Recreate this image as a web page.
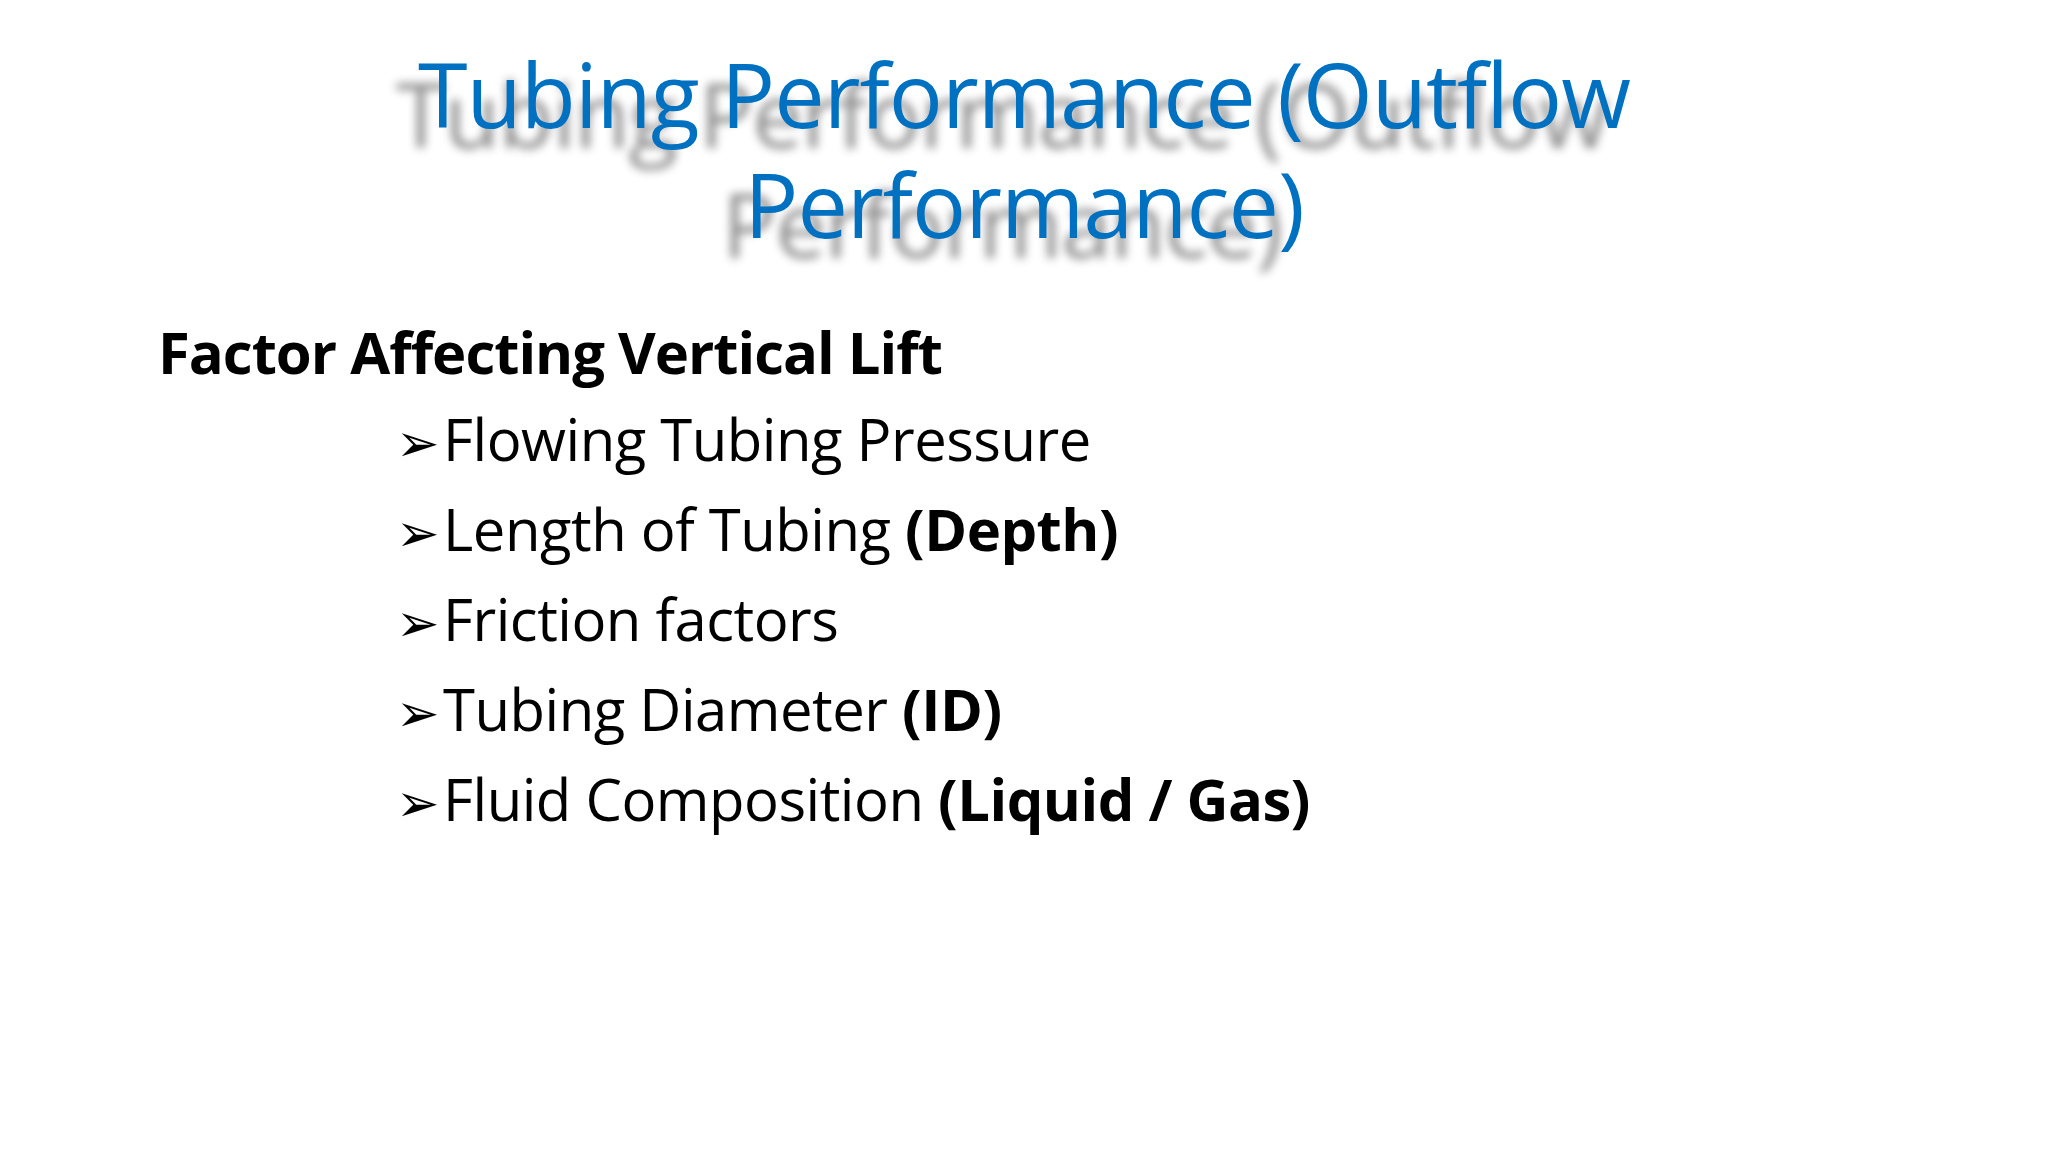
<!DOCTYPE html>
<html>
<head>
<meta charset="utf-8">
<script src="https://cdn.jsdelivr.net/npm/chart.js"></script>
<style>
  html, body { margin: 0; padding: 0; background: #fff; }
  body { width: 2048px; height: 1152px; position: relative; overflow: hidden; font-family: "Open Sans", "Noto Sans", sans-serif; }
  h1 {
    position: absolute; left: 0; top: 38px; width: 2048px; margin: 0;
    text-align: center; font-weight: 400; font-size: 90px; line-height: 110px;
    color: #0070C0; letter-spacing: -1px;
    text-shadow: -22px 20px 10px rgba(0,0,0,0.45);
  }
  .head { position: absolute; left: 158px; top: 312px; font-weight: 700; font-size: 58px; color: #000; letter-spacing: -1px; }
  ul { position: absolute; left: 396px; top: 396px; margin: 0; padding: 0; list-style: none; }
  li { font-size: 58px; line-height: 86px; color: #000; letter-spacing: -0.5px; white-space: nowrap; }
  li .b { font-family: "DejaVu Sans", sans-serif; font-size: 52px; margin-right: 4px; }
</style>
</head>
<body>
<h1>Tubing Performance (Outflow<br>Performance)</h1>
<div class="head">Factor Affecting Vertical Lift</div>
<ul id="list"></ul>
<script>
const items = ["Flowing Tubing Pressure", "Length of Tubing ", "Friction factors", "Tubing Diameter ", "Fluid Composition "];
const boldParts = ["", "(Depth)", "", "(ID)", "(Liquid / Gas)"];
const list = document.getElementById('list');
items.forEach((t, i) => {
  const li = document.createElement('li');
  li.innerHTML = '<span class="b">➢</span>' + t + (boldParts[i] ? '<b>' + boldParts[i] + '</b>' : '');
  list.appendChild(li);
});
</script>
</body>
</html>
